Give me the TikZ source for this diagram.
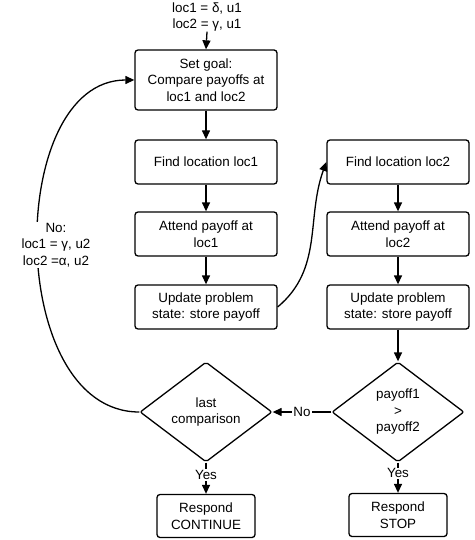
\documentclass[tikz,border=0pt]{standalone}
\usepackage{fontspec}
\setmainfont{Liberation Sans}
\usetikzlibrary{shapes.geometric,arrows.meta}
\begin{document}
\begin{tikzpicture}[x=1pt,y=-1pt,
  font=\fontsize{13.4}{16.5}\selectfont,
  box/.style={draw,line width=1.3pt,rounded corners=3pt,minimum width=142pt,minimum height=44pt,align=center,inner sep=2pt},
  rbox/.style={draw,line width=1.3pt,rounded corners=3pt,minimum width=98pt,minimum height=43pt,align=center,inner sep=2pt},
  dia/.style={draw,diamond,line width=1.3pt,rounded corners=2pt,minimum width=132pt,minimum height=100pt,inner sep=0pt,align=center},
  arr/.style={line width=1.3pt,-{Triangle[length=9pt,width=8pt]}},
  lab/.style={fill=white,inner sep=1pt,align=center}]
\useasboundingbox (0,0) rectangle (474,540);
\node[align=center,inner sep=0pt] (top) at (207,17) {loc1 = δ, u1\\loc2 = γ, u1};
\node[box,minimum height=60pt] (goal) at (206,80) {Set goal:\\Compare payoffs at\\loc1 and loc2};
\node[box] (f1) at (206,162) {Find location loc1};
\node[box] (a1) at (206,234) {Attend payoff at\\loc1};
\node[box] (u1) at (206,307) {Update problem\\state: store payoff};
\node[box] (f2) at (398,162) {Find location loc2};
\node[box] (a2) at (398,234) {Attend payoff at\\loc2};
\node[box] (u2) at (398,307) {Update problem\\state: store payoff};
\node[dia] (d1) at (206,412) {last\\comparison};
\node[dia] (d2) at (398,412) {payoff1\\>\\payoff2};
\node[rbox] (r1) at (206,516) {Respond\\CONTINUE};
\node[rbox] (r2) at (398,515) {Respond\\STOP};
\draw[arr] (top.south) -- (goal.north);
\draw[arr] (goal) -- (f1);
\draw[arr] (f1) -- (a1);
\draw[arr] (a1) -- (u1);
\draw[arr] (u1.east) to[out=40,in=250] (f2.west);
\draw[arr] (f2) -- (a2);
\draw[arr] (a2) -- (u2);
\draw[arr] (u2.south) -- (d2.north);
\draw[arr] (d2.west) -- node[lab] {No} (d1.east);
\draw[arr] (d1.south) -- node[lab,pos=0.4] {Yes} (r1.north);
\draw[arr] (d2.south) -- node[lab,pos=0.35] {Yes} (r2.north);
\draw[arr] (d1.west) .. controls (5,412) and (5,80) .. (goal.west);
\node[lab] (no) at (56,245) {No:\\loc1 = γ, u2\\loc2 =α, u2};
\end{tikzpicture}
\end{document}
